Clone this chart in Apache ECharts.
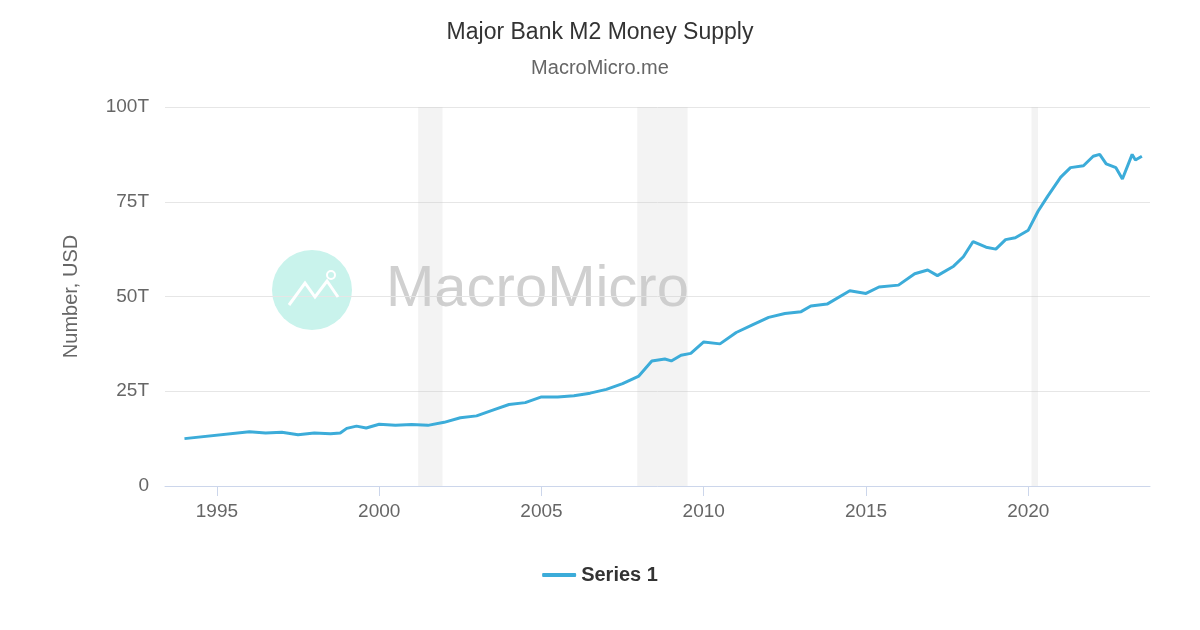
<!DOCTYPE html>
<html>
<head>
<meta charset="utf-8">
<script src="https://cdn.jsdelivr.net/npm/echarts@6/dist/echarts.min.js"></script>
<style>html,body{margin:0;padding:0;background:#fff}#main{width:1200px;height:630px}</style>
</head>
<body>
<div id="main"></div>
<script>
// decimal year, trillions USD
var years = [1994.0, 1996.0, 1996.5, 1997.0, 1997.5, 1998.0, 1998.5, 1998.8, 1999.0, 1999.3, 1999.6, 2000.0, 2000.5, 2001.0, 2001.5, 2002.0, 2002.5, 2003.0, 2003.5, 2004.0, 2004.5, 2005.0, 2005.5, 2006.0, 2006.5, 2007.0, 2007.5, 2008.0, 2008.4, 2008.8, 2009.0, 2009.3, 2009.6, 2010.0, 2010.5, 2011.0, 2011.5, 2012.0, 2012.5, 2013.0, 2013.3, 2013.8, 2014.5, 2015.0, 2015.4, 2016.0, 2016.5, 2016.9, 2017.2, 2017.7, 2018.0, 2018.3, 2018.7, 2019.0, 2019.3, 2019.6, 2020.0, 2020.3, 2020.6, 2021.0, 2021.3, 2021.7, 2022.0, 2022.2, 2022.4, 2022.7, 2022.9, 2023.2, 2023.3, 2023.5];
var m2 = [12.5, 14.3, 14.0, 14.2, 13.5, 14.0, 13.8, 14.0, 15.2, 15.8, 15.3, 16.3, 16.0, 16.2, 16.0, 16.8, 18.0, 18.5, 20.0, 21.5, 22.0, 23.5, 23.5, 23.8, 24.5, 25.5, 27.0, 29.0, 33.0, 33.5, 33.0, 34.5, 35.0, 38.0, 37.5, 40.5, 42.5, 44.5, 45.5, 46.0, 47.5, 48.0, 51.5, 50.8, 52.5, 53.0, 56.0, 57.0, 55.5, 58.0, 60.5, 64.5, 63.0, 62.5, 65.0, 65.5, 67.5, 72.5, 76.5, 81.5, 84.0, 84.5, 87.0, 87.5, 85.0, 84.0, 81.0, 87.5, 86.0, 87.0];
var recessions = [[2001.2, 2001.95], [2007.95, 2009.5], [2020.1, 2020.3]];
var yearTicks = [1995, 2000, 2005, 2010, 2015, 2020];

var chart = echarts.init(document.getElementById('main'));
var font = '"Liberation Sans", Arial, sans-serif';

chart.setOption({
    textStyle: {fontFamily: font},
    title: {
        left: 'center', top: 16,
        text: 'Major Bank M2 Money Supply',
        subtext: 'MacroMicro.me',
        itemGap: 14,
        textStyle: {fontSize: 23, fontWeight: 'normal', color: '#333', fontFamily: font},
        subtextStyle: {fontSize: 20, color: '#666', fontFamily: font}
    },
    legend: {
        bottom: 40, left: 'center',
        icon: 'roundRect', itemWidth: 34, itemHeight: 4,
        textStyle: {fontSize: 20, fontWeight: 'bold', color: '#333', fontFamily: font}
    },
    graphic: [
        {type: 'circle', shape: {cx: 312, cy: 290, r: 40}, style: {fill: '#c9f3ec'}, z: 0},
        {type: 'polyline', shape: {points: [[289, 305], [305, 283], [315, 297], [327, 281], [338, 297]]},
         style: {stroke: '#fff', lineWidth: 3, fill: null}, z: 1},
        {type: 'circle', shape: {cx: 331, cy: 275, r: 4}, style: {stroke: '#fff', lineWidth: 2, fill: null}, z: 1},
        {type: 'text', left: 386, top: 261, style: {text: 'MacroMicro', font: '58px ' + font, fill: '#d0d0d0'}, z: 0}
    ],
    grid: {left: 165, right: 50, top: 107, bottom: 144},
    xAxis: {
        type: 'value', min: 1993.4, max: 2023.75,
        splitLine: {show: false},
        axisLine: {lineStyle: {color: '#ccd6eb'}},
        axisTick: {show: true, customValues: yearTicks, length: 10, lineStyle: {color: '#ccd6eb'}},
        axisLabel: {customValues: yearTicks, fontSize: 19, color: '#666', margin: 16,
            formatter: function (v) { return String(v); }}
    },
    yAxis: {
        type: 'value', min: 0, max: 100, interval: 25,
        name: 'Number, USD', nameLocation: 'middle', nameGap: 84,
        nameTextStyle: {fontSize: 20, color: '#666'},
        axisLine: {show: false},
        axisTick: {show: false},
        axisLabel: {fontSize: 19, color: '#666', margin: 16, formatter: function (v) { return v === 0 ? '0' : v + 'T'; }},
        splitLine: {lineStyle: {color: '#e6e6e6'}}
    },
    series: [{
        name: 'Series 1', type: 'line', showSymbol: false,
        data: years.map(function (y, i) { return [y, m2[i]]; }),
        lineStyle: {color: '#3cacd9', width: 3},
        itemStyle: {color: '#3cacd9'},
        z: 5,
        markArea: {
            silent: true,
            itemStyle: {color: 'rgba(200,200,200,0.22)'},
            data: recessions.map(function (r) { return [{xAxis: r[0]}, {xAxis: r[1]}]; })
        }
    }]
});
</script>
</body>
</html>
